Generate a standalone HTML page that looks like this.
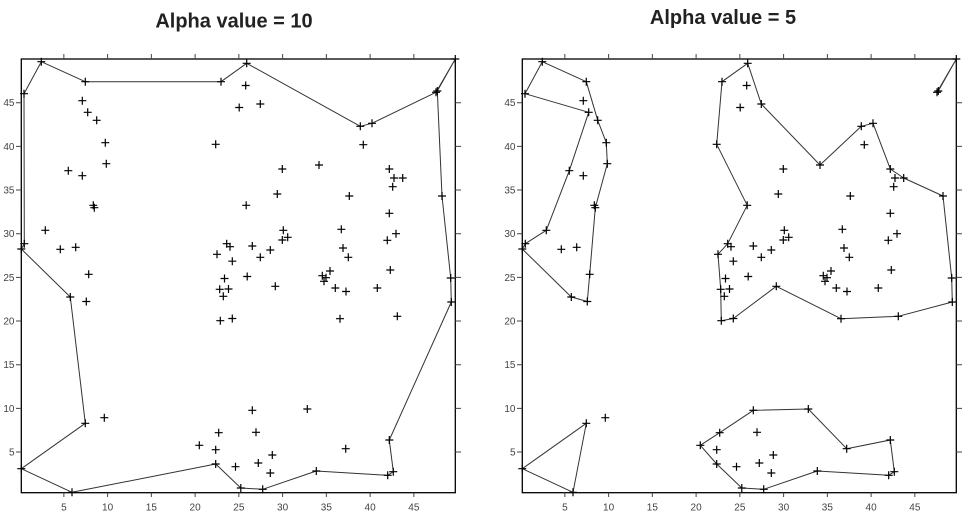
<!DOCTYPE html>
<html><head><meta charset="utf-8"><style>
html,body{margin:0;padding:0;background:#fff;}
svg{display:block;}
</style></head><body>
<svg width="970" height="518" viewBox="0 0 970 518" xmlns="http://www.w3.org/2000/svg">
<defs>
<path id="m" d="M-4 0H4M0 -4V4" stroke="#000" stroke-width="1.2" fill="none"/>
<g id="axes">
  <rect x="21.3" y="59" width="434" height="433.7" fill="none" stroke="#000" stroke-width="1.3"/>
  <g stroke="#444" stroke-width="1">
    <path d="M63.85 59V54M107.6 59V54M151.35 59V54M195.1 59V54M238.85 59V54M282.6 59V54M326.35 59V54M370.1 59V54M413.85 59V54"/>
    <path d="M63.85 492.7V497M107.6 492.7V497M151.35 492.7V497M195.1 492.7V497M238.85 492.7V497M282.6 492.7V497M326.35 492.7V497M370.1 492.7V497M413.85 492.7V497"/>
    <path d="M21.3 102.7H16M21.3 146.4H16M21.3 190H16M21.3 233.7H16M21.3 277.4H16M21.3 321H16M21.3 364.7H16M21.3 408.4H16M21.3 452H16"/>
    <path d="M455.3 102.7H461M455.3 146.4H461M455.3 190H461M455.3 233.7H461M455.3 277.4H461M455.3 321H461M455.3 364.7H461M455.3 408.4H461M455.3 452H461"/>
  </g>
  <g font-family="Liberation Sans, sans-serif" font-size="10" fill="#444">
    <g text-anchor="end">
      <text x="14.5" y="106.2">45</text><text x="14.5" y="149.9">40</text><text x="14.5" y="193.5">35</text>
      <text x="14.5" y="237.2">30</text><text x="14.5" y="280.9">25</text><text x="14.5" y="324.5">20</text>
      <text x="14.5" y="368.2">15</text><text x="14.5" y="411.9">10</text><text x="14.5" y="455.5">5</text>
    </g>
    <g text-anchor="middle">
      <text x="63.85" y="510.5">5</text><text x="107.6" y="510.5">10</text><text x="151.35" y="510.5">15</text>
      <text x="195.1" y="510.5">20</text><text x="238.85" y="510.5">25</text><text x="282.6" y="510.5">30</text>
      <text x="326.35" y="510.5">35</text><text x="370.1" y="510.5">40</text><text x="413.85" y="510.5">45</text>
    </g>
  </g>
</g>
<g id="pts">
<use href="#m" x="24" y="93.7"/><use href="#m" x="41.3" y="61.7"/><use href="#m" x="85.3" y="81.7"/>
<use href="#m" x="221" y="81.7"/><use href="#m" x="246.7" y="63.3"/><use href="#m" x="82.3" y="100.7"/>
<use href="#m" x="87.7" y="112.3"/><use href="#m" x="96.7" y="120.3"/><use href="#m" x="105.3" y="142.7"/>
<use href="#m" x="106.3" y="163.7"/><use href="#m" x="68.3" y="170.7"/><use href="#m" x="82.3" y="175.7"/>
<use href="#m" x="93.3" y="205.3"/><use href="#m" x="94.3" y="207.7"/><use href="#m" x="45.3" y="230.3"/>
<use href="#m" x="24.3" y="243.7"/><use href="#m" x="21.3" y="249"/><use href="#m" x="60.3" y="249.3"/>
<use href="#m" x="75.7" y="247.3"/><use href="#m" x="88.7" y="274.3"/><use href="#m" x="70.3" y="297"/>
<use href="#m" x="86.3" y="301.5"/><use href="#m" x="245.7" y="85.5"/><use href="#m" x="239.2" y="107.5"/>
<use href="#m" x="260.3" y="104"/><use href="#m" x="215.7" y="144.3"/><use href="#m" x="360.3" y="126.3"/>
<use href="#m" x="372" y="123.3"/><use href="#m" x="363.3" y="144.7"/><use href="#m" x="436" y="92.3"/>
<use href="#m" x="437.3" y="91"/><use href="#m" x="455.3" y="59"/><use href="#m" x="246.2" y="205.3"/>
<use href="#m" x="226.7" y="243.7"/><use href="#m" x="230" y="246.7"/><use href="#m" x="217" y="254.3"/>
<use href="#m" x="232.3" y="261.2"/><use href="#m" x="224.5" y="278.5"/><use href="#m" x="247.2" y="276.5"/>
<use href="#m" x="219.7" y="289.3"/><use href="#m" x="228.5" y="289"/><use href="#m" x="223.3" y="296.3"/>
<use href="#m" x="252.3" y="246"/><use href="#m" x="270.3" y="250"/><use href="#m" x="260.3" y="257.3"/>
<use href="#m" x="282.3" y="169"/><use href="#m" x="319" y="165"/><use href="#m" x="277.3" y="194"/>
<use href="#m" x="283.3" y="230.3"/><use href="#m" x="282.3" y="240"/><use href="#m" x="287.7" y="237.3"/>
<use href="#m" x="341.3" y="229.3"/><use href="#m" x="343" y="248"/><use href="#m" x="348.3" y="257.3"/>
<use href="#m" x="349.3" y="196"/><use href="#m" x="389.3" y="169"/><use href="#m" x="394" y="178"/>
<use href="#m" x="402.7" y="178"/><use href="#m" x="392.7" y="186.7"/><use href="#m" x="442" y="196"/>
<use href="#m" x="389.3" y="213.3"/><use href="#m" x="387.3" y="240.3"/><use href="#m" x="396" y="233.7"/>
<use href="#m" x="390.3" y="270"/><use href="#m" x="450.7" y="278"/><use href="#m" x="322.3" y="275.7"/>
<use href="#m" x="326" y="277.7"/><use href="#m" x="330" y="271"/><use href="#m" x="324" y="281.3"/>
<use href="#m" x="275.3" y="286.3"/><use href="#m" x="335.3" y="288"/><use href="#m" x="346" y="291.5"/>
<use href="#m" x="377.3" y="288"/><use href="#m" x="220.3" y="320.7"/><use href="#m" x="232.3" y="318.5"/>
<use href="#m" x="340" y="318.7"/><use href="#m" x="397.3" y="316.3"/><use href="#m" x="451.3" y="302"/>
<use href="#m" x="85.3" y="423.3"/><use href="#m" x="104.3" y="417.7"/><use href="#m" x="21.3" y="468.7"/>
<use href="#m" x="72" y="492.3"/><use href="#m" x="215.7" y="464"/><use href="#m" x="199.3" y="445.3"/>
<use href="#m" x="218.7" y="432.7"/><use href="#m" x="215.7" y="449.7"/><use href="#m" x="235.5" y="466.7"/>
<use href="#m" x="240.8" y="488"/><use href="#m" x="252.3" y="410.3"/><use href="#m" x="307.3" y="409"/>
<use href="#m" x="256" y="432.3"/><use href="#m" x="345.7" y="448.7"/><use href="#m" x="272.3" y="455"/>
<use href="#m" x="258.3" y="463"/><use href="#m" x="270.3" y="473"/><use href="#m" x="389.3" y="440"/>
<use href="#m" x="262.7" y="489.3"/><use href="#m" x="316.3" y="471"/><use href="#m" x="393.3" y="471.7"/>
<use href="#m" x="387.7" y="475.3"/>
</g>
</defs>

<rect width="970" height="518" fill="#fff"/>

<!-- Titles -->
<text x="234" y="27.5" text-anchor="middle" font-family="Liberation Sans, sans-serif" font-weight="bold" font-size="20" fill="#222">Alpha value = 10</text>
<text x="723" y="24" text-anchor="middle" font-family="Liberation Sans, sans-serif" font-weight="bold" font-size="20" fill="#222">Alpha value = 5</text>

<!-- Panel 1 -->
<use href="#axes"/>
<polygon fill="none" stroke="#333" stroke-width="1" stroke-linejoin="round" points="24,93.7 41.3,61.7 85.3,81.7 221,81.7 246.7,63.3 360.3,126.3 372,123.3 436,92.3 455.3,59 437.3,91 442,196 450.7,278 451.3,302 389.3,440 393.3,471.7 387.7,475.3 316.3,471 262.7,489.3 240.8,488 215.7,464 72,492.3 21.3,468.7 85.3,423.3 70.3,297 21.3,249 24.3,243.7"/>
<use href="#pts"/>

<!-- Panel 2 -->
<g transform="translate(501,0)">
<use href="#axes"/>
<g fill="none" stroke="#333" stroke-width="1" stroke-linejoin="round">
<polygon points="24,93.7 41.3,61.7 85.3,81.7 96.7,120.3 105.3,142.7 106.3,163.7 94.3,207.7 88.7,274.3 86.3,301.5 70.3,297 21.3,249 24.3,243.7 45.3,230.3 68.3,170.7 87.7,112.3"/>
<polygon points="221,81.7 246.7,63.3 260.3,104 319,165 360.3,126.3 372,123.3 389.3,169 402.7,178 442,196 450.7,278 451.3,302 397.3,316.3 340,318.7 275.3,286.3 232.3,318.5 220.3,320.7 219.7,289.3 217,254.3 226.7,243.7 246.2,205.3 215.7,144.3"/>
<polygon points="21.3,468.7 85.3,423.3 72,492.3"/>
<polygon points="199.3,445.3 218.7,432.7 252.3,410.3 307.3,409 345.7,448.7 389.3,440 393.3,471.7 387.7,475.3 316.3,471 262.7,489.3 240.8,488 215.7,464"/>
<polygon points="436,92.3 455.3,59 437.3,91"/>
</g>
<use href="#pts"/>
</g>
</svg>
</body></html>
